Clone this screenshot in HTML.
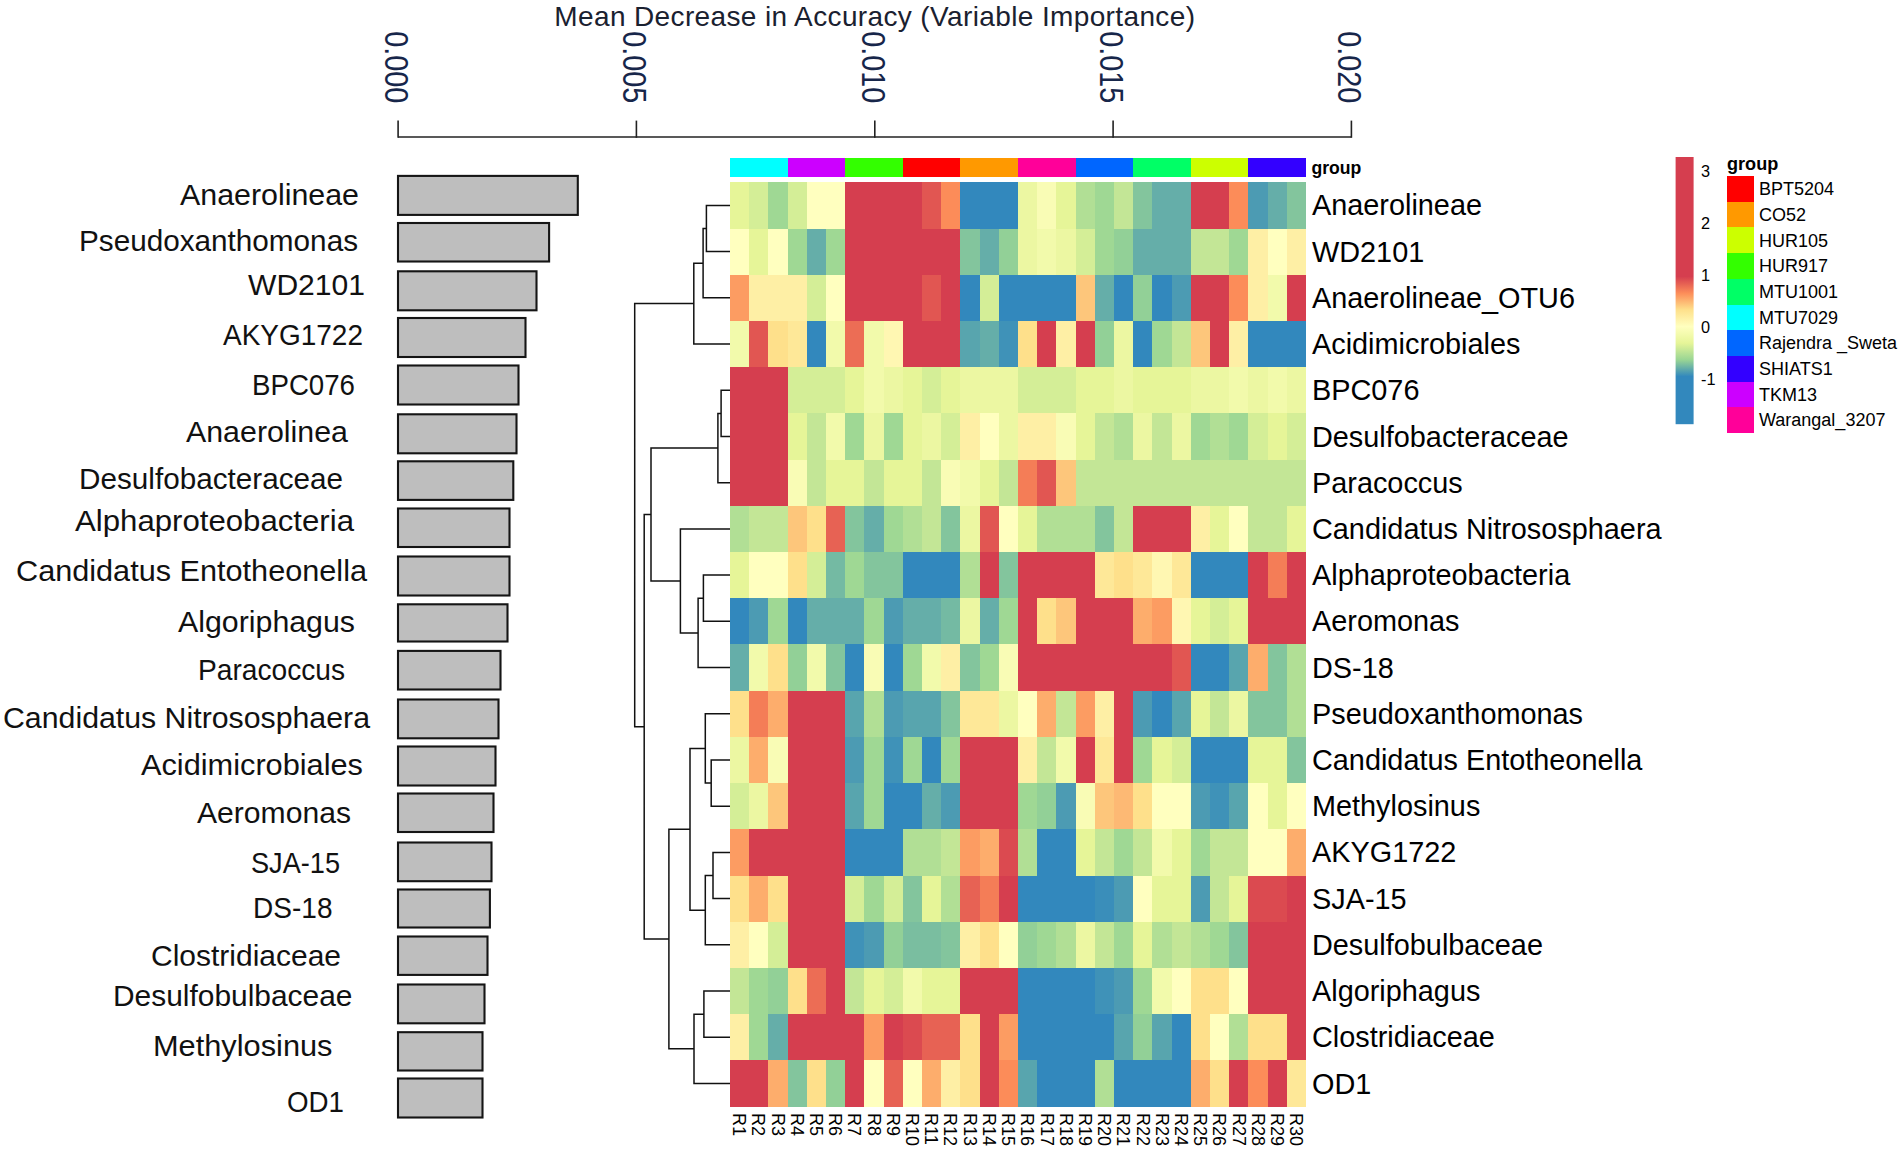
<!DOCTYPE html>
<html lang="en"><head><meta charset="utf-8"><title>Variable importance and heatmap</title>
<style>html,body{margin:0;padding:0;background:#fff}body{width:1902px;height:1152px;overflow:hidden}svg{display:block}text{font-family:"Liberation Sans",Arial,Helvetica,sans-serif}</style></head><body>
<svg width="1902" height="1152" viewBox="0 0 1902 1152">
<rect width="1902" height="1152" fill="#fff"/>
<g id="axis">
<text x="554.3" y="26.4" font-size="28" textLength="640.7" lengthAdjust="spacing" fill="#1a2130">Mean Decrease in Accuracy (Variable Importance)</text>
<path d="M398.1 137H1351.4" stroke="#222" stroke-width="1.6" fill="none"/>
<path d="M398.1 120.6V137.8" stroke="#222" stroke-width="1.6"/>
<text transform="translate(384.9,31.2) rotate(90) scale(1,1.14)" font-size="28.8" fill="#17264a">0.000</text>
<path d="M636.4 120.6V137.8" stroke="#222" stroke-width="1.6"/>
<text transform="translate(623.2,31.2) rotate(90) scale(1,1.14)" font-size="28.8" fill="#17264a">0.005</text>
<path d="M874.8 120.6V137.8" stroke="#222" stroke-width="1.6"/>
<text transform="translate(861.6,31.2) rotate(90) scale(1,1.14)" font-size="28.8" fill="#17264a">0.010</text>
<path d="M1113.1 120.6V137.8" stroke="#222" stroke-width="1.6"/>
<text transform="translate(1099.9,31.2) rotate(90) scale(1,1.14)" font-size="28.8" fill="#17264a">0.015</text>
<path d="M1351.4 120.6V137.8" stroke="#222" stroke-width="1.6"/>
<text transform="translate(1338.2,31.2) rotate(90) scale(1,1.14)" font-size="28.8" fill="#17264a">0.020</text>
</g>
<g id="bars">
<rect x="398" y="175.9" width="179.8" height="39.0" fill="#BEBEBE" stroke="#151515" stroke-width="2.1"/>
<rect x="398" y="223.0" width="151.1" height="38.5" fill="#BEBEBE" stroke="#151515" stroke-width="2.1"/>
<rect x="398" y="271.3" width="138.5" height="39.0" fill="#BEBEBE" stroke="#151515" stroke-width="2.1"/>
<rect x="398" y="318.0" width="127.5" height="39.0" fill="#BEBEBE" stroke="#151515" stroke-width="2.1"/>
<rect x="398" y="365.5" width="120.5" height="39.0" fill="#BEBEBE" stroke="#151515" stroke-width="2.1"/>
<rect x="398" y="414.3" width="118.5" height="39.0" fill="#BEBEBE" stroke="#151515" stroke-width="2.1"/>
<rect x="398" y="461.3" width="115.3" height="38.6" fill="#BEBEBE" stroke="#151515" stroke-width="2.1"/>
<rect x="398" y="508.5" width="111.5" height="38.5" fill="#BEBEBE" stroke="#151515" stroke-width="2.1"/>
<rect x="398" y="556.5" width="111.5" height="39.0" fill="#BEBEBE" stroke="#151515" stroke-width="2.1"/>
<rect x="398" y="604.3" width="109.5" height="37.2" fill="#BEBEBE" stroke="#151515" stroke-width="2.1"/>
<rect x="398" y="650.9" width="102.5" height="38.6" fill="#BEBEBE" stroke="#151515" stroke-width="2.1"/>
<rect x="398" y="699.5" width="100.5" height="38.8" fill="#BEBEBE" stroke="#151515" stroke-width="2.1"/>
<rect x="398" y="746.5" width="97.5" height="39.0" fill="#BEBEBE" stroke="#151515" stroke-width="2.1"/>
<rect x="398" y="793.5" width="95.5" height="38.5" fill="#BEBEBE" stroke="#151515" stroke-width="2.1"/>
<rect x="398" y="842.5" width="93.5" height="38.7" fill="#BEBEBE" stroke="#151515" stroke-width="2.1"/>
<rect x="398" y="889.5" width="91.9" height="38.0" fill="#BEBEBE" stroke="#151515" stroke-width="2.1"/>
<rect x="398" y="936.5" width="89.5" height="38.4" fill="#BEBEBE" stroke="#151515" stroke-width="2.1"/>
<rect x="398" y="984.5" width="86.5" height="38.8" fill="#BEBEBE" stroke="#151515" stroke-width="2.1"/>
<rect x="398" y="1032.2" width="84.5" height="38.3" fill="#BEBEBE" stroke="#151515" stroke-width="2.1"/>
<rect x="398" y="1078.5" width="84.5" height="39.0" fill="#BEBEBE" stroke="#151515" stroke-width="2.1"/>
</g><g id="barlabels" font-size="29.5" fill="#111">
<text x="180.0" y="205.0" textLength="179.0" lengthAdjust="spacingAndGlyphs">Anaerolineae</text>
<text x="79.0" y="251.0" textLength="279.0" lengthAdjust="spacingAndGlyphs">Pseudoxanthomonas</text>
<text x="248.0" y="295.0" textLength="117.0" lengthAdjust="spacingAndGlyphs">WD2101</text>
<text x="223.0" y="344.6" textLength="140.0" lengthAdjust="spacingAndGlyphs">AKYG1722</text>
<text x="252.0" y="395.0" textLength="103.0" lengthAdjust="spacingAndGlyphs">BPC076</text>
<text x="186.0" y="442.0" textLength="162.0" lengthAdjust="spacingAndGlyphs">Anaerolinea</text>
<text x="79.0" y="489.0" textLength="264.0" lengthAdjust="spacingAndGlyphs">Desulfobacteraceae</text>
<text x="75.0" y="531.0" textLength="279.0" lengthAdjust="spacingAndGlyphs">Alphaproteobacteria</text>
<text x="16.0" y="581.0" textLength="351.0" lengthAdjust="spacingAndGlyphs">Candidatus Entotheonella</text>
<text x="178.0" y="632.0" textLength="177.0" lengthAdjust="spacingAndGlyphs">Algoriphagus</text>
<text x="198.0" y="679.6" textLength="147.0" lengthAdjust="spacingAndGlyphs">Paracoccus</text>
<text x="3.0" y="727.5" textLength="367.0" lengthAdjust="spacingAndGlyphs">Candidatus Nitrososphaera</text>
<text x="141.0" y="774.6" textLength="222.0" lengthAdjust="spacingAndGlyphs">Acidimicrobiales</text>
<text x="197.0" y="823.0" textLength="154.0" lengthAdjust="spacingAndGlyphs">Aeromonas</text>
<text x="251.0" y="872.5" textLength="89.0" lengthAdjust="spacingAndGlyphs">SJA-15</text>
<text x="253.0" y="918.0" textLength="79.5" lengthAdjust="spacingAndGlyphs">DS-18</text>
<text x="151.0" y="966.3" textLength="190.0" lengthAdjust="spacingAndGlyphs">Clostridiaceae</text>
<rect x="140" y="965.8" width="215" height="12" fill="#fff"/>
<text x="113.0" y="1006.0" textLength="239.5" lengthAdjust="spacingAndGlyphs">Desulfobulbaceae</text>
<text x="153.0" y="1056.0" textLength="179.5" lengthAdjust="spacingAndGlyphs">Methylosinus</text>
<text x="287.0" y="1112.0" textLength="57.0" lengthAdjust="spacingAndGlyphs">OD1</text>
</g>
<g id="annot" shape-rendering="crispEdges">
<rect x="730.00" y="158.2" width="57.91" height="18.3" fill="#00FFFF"/>
<rect x="787.61" y="158.2" width="57.91" height="18.3" fill="#CC00FF"/>
<rect x="845.22" y="158.2" width="57.91" height="18.3" fill="#33FF00"/>
<rect x="902.83" y="158.2" width="57.91" height="18.3" fill="#FF0000"/>
<rect x="960.44" y="158.2" width="57.91" height="18.3" fill="#FF9900"/>
<rect x="1018.05" y="158.2" width="57.91" height="18.3" fill="#FF0099"/>
<rect x="1075.66" y="158.2" width="57.91" height="18.3" fill="#0066FF"/>
<rect x="1133.27" y="158.2" width="57.91" height="18.3" fill="#00FF66"/>
<rect x="1190.88" y="158.2" width="57.91" height="18.3" fill="#CCFF00"/>
<rect x="1248.49" y="158.2" width="57.91" height="18.3" fill="#3300FF"/>
</g>
<text x="1311.5" y="174" font-size="17.6" font-weight="bold" fill="#000">group</text>
<g id="heat" shape-rendering="crispEdges">
<rect x="730.00" y="182.30" width="19.50" height="46.51" fill="#E6F598"/>
<rect x="749.20" y="182.30" width="19.50" height="46.51" fill="#D4EE97"/>
<rect x="768.41" y="182.30" width="19.50" height="46.51" fill="#9FD894"/>
<rect x="787.61" y="182.30" width="19.50" height="46.51" fill="#D4EE97"/>
<rect x="806.81" y="182.30" width="38.71" height="46.51" fill="#FFFFBF"/>
<rect x="845.22" y="182.30" width="77.11" height="46.51" fill="#D53E4F"/>
<rect x="922.03" y="182.30" width="19.50" height="46.51" fill="#E15652"/>
<rect x="941.24" y="182.30" width="19.50" height="46.51" fill="#FC8C59"/>
<rect x="960.44" y="182.30" width="57.91" height="46.51" fill="#3288BD"/>
<rect x="1018.05" y="182.30" width="19.50" height="46.51" fill="#ECF7A2"/>
<rect x="1037.25" y="182.30" width="19.50" height="46.51" fill="#F9FCB5"/>
<rect x="1056.46" y="182.30" width="19.50" height="46.51" fill="#E6F598"/>
<rect x="1075.66" y="182.30" width="19.50" height="46.51" fill="#B1DF95"/>
<rect x="1094.86" y="182.30" width="19.50" height="46.51" fill="#9FD894"/>
<rect x="1114.07" y="182.30" width="19.50" height="46.51" fill="#C3E696"/>
<rect x="1133.27" y="182.30" width="19.50" height="46.51" fill="#83C59D"/>
<rect x="1152.47" y="182.30" width="38.71" height="46.51" fill="#65AEA9"/>
<rect x="1190.88" y="182.30" width="38.71" height="46.51" fill="#D53E4F"/>
<rect x="1229.29" y="182.30" width="19.50" height="46.51" fill="#FC8C59"/>
<rect x="1248.49" y="182.30" width="19.50" height="46.51" fill="#4C9BB3"/>
<rect x="1267.69" y="182.30" width="19.50" height="46.51" fill="#65AEA9"/>
<rect x="1286.90" y="182.30" width="19.50" height="46.51" fill="#83C59D"/>
<rect x="730.00" y="228.52" width="19.50" height="46.51" fill="#FFFFBF"/>
<rect x="749.20" y="228.52" width="19.50" height="46.51" fill="#E6F598"/>
<rect x="768.41" y="228.52" width="19.50" height="46.51" fill="#FFFFBF"/>
<rect x="787.61" y="228.52" width="19.50" height="46.51" fill="#9FD894"/>
<rect x="806.81" y="228.52" width="19.50" height="46.51" fill="#65AEA9"/>
<rect x="826.02" y="228.52" width="19.50" height="46.51" fill="#9FD894"/>
<rect x="845.22" y="228.52" width="115.52" height="46.51" fill="#D53E4F"/>
<rect x="960.44" y="228.52" width="19.50" height="46.51" fill="#83C59D"/>
<rect x="979.64" y="228.52" width="19.50" height="46.51" fill="#65AEA9"/>
<rect x="998.85" y="228.52" width="19.50" height="46.51" fill="#92D097"/>
<rect x="1018.05" y="228.52" width="19.50" height="46.51" fill="#ECF7A2"/>
<rect x="1037.25" y="228.52" width="19.50" height="46.51" fill="#F2FAAB"/>
<rect x="1056.46" y="228.52" width="19.50" height="46.51" fill="#ECF7A2"/>
<rect x="1075.66" y="228.52" width="19.50" height="46.51" fill="#D4EE97"/>
<rect x="1094.86" y="228.52" width="19.50" height="46.51" fill="#9FD894"/>
<rect x="1114.07" y="228.52" width="19.50" height="46.51" fill="#92D097"/>
<rect x="1133.27" y="228.52" width="57.91" height="46.51" fill="#65AEA9"/>
<rect x="1190.88" y="228.52" width="38.71" height="46.51" fill="#C3E696"/>
<rect x="1229.29" y="228.52" width="19.50" height="46.51" fill="#9FD894"/>
<rect x="1248.49" y="228.52" width="19.50" height="46.51" fill="#FEEFA5"/>
<rect x="1267.69" y="228.52" width="19.50" height="46.51" fill="#FFFFBF"/>
<rect x="1286.90" y="228.52" width="19.50" height="46.51" fill="#FEEFA5"/>
<rect x="730.00" y="274.73" width="19.50" height="46.51" fill="#FC9C62"/>
<rect x="749.20" y="274.73" width="57.91" height="46.51" fill="#FEEFA5"/>
<rect x="806.81" y="274.73" width="19.50" height="46.51" fill="#D4EE97"/>
<rect x="826.02" y="274.73" width="19.50" height="46.51" fill="#FFFFBF"/>
<rect x="845.22" y="274.73" width="77.11" height="46.51" fill="#D53E4F"/>
<rect x="922.03" y="274.73" width="19.50" height="46.51" fill="#E15652"/>
<rect x="941.24" y="274.73" width="19.50" height="46.51" fill="#D53E4F"/>
<rect x="960.44" y="274.73" width="19.50" height="46.51" fill="#3288BD"/>
<rect x="979.64" y="274.73" width="19.50" height="46.51" fill="#D4EE97"/>
<rect x="998.85" y="274.73" width="77.11" height="46.51" fill="#3288BD"/>
<rect x="1075.66" y="274.73" width="19.50" height="46.51" fill="#FDC67B"/>
<rect x="1094.86" y="274.73" width="19.50" height="46.51" fill="#65AEA9"/>
<rect x="1114.07" y="274.73" width="19.50" height="46.51" fill="#3288BD"/>
<rect x="1133.27" y="274.73" width="19.50" height="46.51" fill="#92D097"/>
<rect x="1152.47" y="274.73" width="19.50" height="46.51" fill="#3288BD"/>
<rect x="1171.68" y="274.73" width="19.50" height="46.51" fill="#4C9BB3"/>
<rect x="1190.88" y="274.73" width="38.71" height="46.51" fill="#D53E4F"/>
<rect x="1229.29" y="274.73" width="19.50" height="46.51" fill="#FC8C59"/>
<rect x="1248.49" y="274.73" width="19.50" height="46.51" fill="#FEEFA5"/>
<rect x="1267.69" y="274.73" width="19.50" height="46.51" fill="#F2FAAB"/>
<rect x="1286.90" y="274.73" width="19.50" height="46.51" fill="#D53E4F"/>
<rect x="730.00" y="320.94" width="19.50" height="46.51" fill="#F2FAAB"/>
<rect x="749.20" y="320.94" width="19.50" height="46.51" fill="#E15652"/>
<rect x="768.41" y="320.94" width="19.50" height="46.51" fill="#FEE08B"/>
<rect x="787.61" y="320.94" width="19.50" height="46.51" fill="#FEE898"/>
<rect x="806.81" y="320.94" width="19.50" height="46.51" fill="#3288BD"/>
<rect x="826.02" y="320.94" width="19.50" height="46.51" fill="#F2FAAB"/>
<rect x="845.22" y="320.94" width="19.50" height="46.51" fill="#EC6D55"/>
<rect x="864.42" y="320.94" width="19.50" height="46.51" fill="#F2FAAB"/>
<rect x="883.63" y="320.94" width="19.50" height="46.51" fill="#FFF7B2"/>
<rect x="902.83" y="320.94" width="57.91" height="46.51" fill="#D53E4F"/>
<rect x="960.44" y="320.94" width="19.50" height="46.51" fill="#58A5AE"/>
<rect x="979.64" y="320.94" width="19.50" height="46.51" fill="#65AEA9"/>
<rect x="998.85" y="320.94" width="19.50" height="46.51" fill="#3F92B8"/>
<rect x="1018.05" y="320.94" width="19.50" height="46.51" fill="#FEE08B"/>
<rect x="1037.25" y="320.94" width="19.50" height="46.51" fill="#D53E4F"/>
<rect x="1056.46" y="320.94" width="19.50" height="46.51" fill="#FEEFA5"/>
<rect x="1075.66" y="320.94" width="19.50" height="46.51" fill="#D53E4F"/>
<rect x="1094.86" y="320.94" width="19.50" height="46.51" fill="#92D097"/>
<rect x="1114.07" y="320.94" width="19.50" height="46.51" fill="#ECF7A2"/>
<rect x="1133.27" y="320.94" width="19.50" height="46.51" fill="#3288BD"/>
<rect x="1152.47" y="320.94" width="19.50" height="46.51" fill="#9FD894"/>
<rect x="1171.68" y="320.94" width="19.50" height="46.51" fill="#C3E696"/>
<rect x="1190.88" y="320.94" width="19.50" height="46.51" fill="#FDC67B"/>
<rect x="1210.08" y="320.94" width="19.50" height="46.51" fill="#D53E4F"/>
<rect x="1229.29" y="320.94" width="19.50" height="46.51" fill="#FEEFA5"/>
<rect x="1248.49" y="320.94" width="57.91" height="46.51" fill="#3288BD"/>
<rect x="730.00" y="367.16" width="57.91" height="46.51" fill="#D53E4F"/>
<rect x="787.61" y="367.16" width="57.91" height="46.51" fill="#D4EE97"/>
<rect x="845.22" y="367.16" width="19.50" height="46.51" fill="#E6F598"/>
<rect x="864.42" y="367.16" width="19.50" height="46.51" fill="#F2FAAB"/>
<rect x="883.63" y="367.16" width="19.50" height="46.51" fill="#ECF7A2"/>
<rect x="902.83" y="367.16" width="19.50" height="46.51" fill="#E6F598"/>
<rect x="922.03" y="367.16" width="19.50" height="46.51" fill="#D4EE97"/>
<rect x="941.24" y="367.16" width="19.50" height="46.51" fill="#E6F598"/>
<rect x="960.44" y="367.16" width="57.91" height="46.51" fill="#ECF7A2"/>
<rect x="1018.05" y="367.16" width="57.91" height="46.51" fill="#D4EE97"/>
<rect x="1075.66" y="367.16" width="38.71" height="46.51" fill="#E6F598"/>
<rect x="1114.07" y="367.16" width="19.50" height="46.51" fill="#ECF7A2"/>
<rect x="1133.27" y="367.16" width="57.91" height="46.51" fill="#E6F598"/>
<rect x="1190.88" y="367.16" width="38.71" height="46.51" fill="#ECF7A2"/>
<rect x="1229.29" y="367.16" width="19.50" height="46.51" fill="#F2FAAB"/>
<rect x="1248.49" y="367.16" width="19.50" height="46.51" fill="#ECF7A2"/>
<rect x="1267.69" y="367.16" width="19.50" height="46.51" fill="#F2FAAB"/>
<rect x="1286.90" y="367.16" width="19.50" height="46.51" fill="#ECF7A2"/>
<rect x="730.00" y="413.38" width="57.91" height="46.51" fill="#D53E4F"/>
<rect x="787.61" y="413.38" width="19.50" height="46.51" fill="#E6F598"/>
<rect x="806.81" y="413.38" width="19.50" height="46.51" fill="#C3E696"/>
<rect x="826.02" y="413.38" width="19.50" height="46.51" fill="#F2FAAB"/>
<rect x="845.22" y="413.38" width="19.50" height="46.51" fill="#9FD894"/>
<rect x="864.42" y="413.38" width="19.50" height="46.51" fill="#ECF7A2"/>
<rect x="883.63" y="413.38" width="19.50" height="46.51" fill="#9FD894"/>
<rect x="902.83" y="413.38" width="19.50" height="46.51" fill="#E6F598"/>
<rect x="922.03" y="413.38" width="19.50" height="46.51" fill="#ECF7A2"/>
<rect x="941.24" y="413.38" width="19.50" height="46.51" fill="#D4EE97"/>
<rect x="960.44" y="413.38" width="19.50" height="46.51" fill="#FEEFA5"/>
<rect x="979.64" y="413.38" width="19.50" height="46.51" fill="#FFFFBF"/>
<rect x="998.85" y="413.38" width="19.50" height="46.51" fill="#ECF7A2"/>
<rect x="1018.05" y="413.38" width="38.71" height="46.51" fill="#FEEFA5"/>
<rect x="1056.46" y="413.38" width="19.50" height="46.51" fill="#F9FCB5"/>
<rect x="1075.66" y="413.38" width="19.50" height="46.51" fill="#E6F598"/>
<rect x="1094.86" y="413.38" width="19.50" height="46.51" fill="#C3E696"/>
<rect x="1114.07" y="413.38" width="19.50" height="46.51" fill="#B1DF95"/>
<rect x="1133.27" y="413.38" width="19.50" height="46.51" fill="#ECF7A2"/>
<rect x="1152.47" y="413.38" width="19.50" height="46.51" fill="#C3E696"/>
<rect x="1171.68" y="413.38" width="19.50" height="46.51" fill="#ECF7A2"/>
<rect x="1190.88" y="413.38" width="19.50" height="46.51" fill="#9FD894"/>
<rect x="1210.08" y="413.38" width="19.50" height="46.51" fill="#B1DF95"/>
<rect x="1229.29" y="413.38" width="19.50" height="46.51" fill="#9FD894"/>
<rect x="1248.49" y="413.38" width="19.50" height="46.51" fill="#D4EE97"/>
<rect x="1267.69" y="413.38" width="19.50" height="46.51" fill="#E6F598"/>
<rect x="1286.90" y="413.38" width="19.50" height="46.51" fill="#D4EE97"/>
<rect x="730.00" y="459.59" width="57.91" height="46.51" fill="#D53E4F"/>
<rect x="787.61" y="459.59" width="19.50" height="46.51" fill="#F9FCB5"/>
<rect x="806.81" y="459.59" width="19.50" height="46.51" fill="#C3E696"/>
<rect x="826.02" y="459.59" width="38.71" height="46.51" fill="#E6F598"/>
<rect x="864.42" y="459.59" width="19.50" height="46.51" fill="#C3E696"/>
<rect x="883.63" y="459.59" width="38.71" height="46.51" fill="#E6F598"/>
<rect x="922.03" y="459.59" width="19.50" height="46.51" fill="#C3E696"/>
<rect x="941.24" y="459.59" width="19.50" height="46.51" fill="#F9FCB5"/>
<rect x="960.44" y="459.59" width="19.50" height="46.51" fill="#F2FAAB"/>
<rect x="979.64" y="459.59" width="19.50" height="46.51" fill="#E6F598"/>
<rect x="998.85" y="459.59" width="19.50" height="46.51" fill="#C3E696"/>
<rect x="1018.05" y="459.59" width="19.50" height="46.51" fill="#F47D57"/>
<rect x="1037.25" y="459.59" width="19.50" height="46.51" fill="#E15652"/>
<rect x="1056.46" y="459.59" width="19.50" height="46.51" fill="#FDC67B"/>
<rect x="1075.66" y="459.59" width="230.74" height="46.51" fill="#C3E696"/>
<rect x="730.00" y="505.81" width="19.50" height="46.51" fill="#B1DF95"/>
<rect x="749.20" y="505.81" width="38.71" height="46.51" fill="#C3E696"/>
<rect x="787.61" y="505.81" width="19.50" height="46.51" fill="#FDC67B"/>
<rect x="806.81" y="505.81" width="19.50" height="46.51" fill="#FEE08B"/>
<rect x="826.02" y="505.81" width="19.50" height="46.51" fill="#E76254"/>
<rect x="845.22" y="505.81" width="19.50" height="46.51" fill="#83C59D"/>
<rect x="864.42" y="505.81" width="19.50" height="46.51" fill="#65AEA9"/>
<rect x="883.63" y="505.81" width="19.50" height="46.51" fill="#9FD894"/>
<rect x="902.83" y="505.81" width="19.50" height="46.51" fill="#B1DF95"/>
<rect x="922.03" y="505.81" width="19.50" height="46.51" fill="#C3E696"/>
<rect x="941.24" y="505.81" width="19.50" height="46.51" fill="#83C59D"/>
<rect x="960.44" y="505.81" width="19.50" height="46.51" fill="#ECF7A2"/>
<rect x="979.64" y="505.81" width="19.50" height="46.51" fill="#E15652"/>
<rect x="998.85" y="505.81" width="19.50" height="46.51" fill="#FFFFBF"/>
<rect x="1018.05" y="505.81" width="19.50" height="46.51" fill="#E6F598"/>
<rect x="1037.25" y="505.81" width="57.91" height="46.51" fill="#B1DF95"/>
<rect x="1094.86" y="505.81" width="19.50" height="46.51" fill="#83C59D"/>
<rect x="1114.07" y="505.81" width="19.50" height="46.51" fill="#C3E696"/>
<rect x="1133.27" y="505.81" width="57.91" height="46.51" fill="#D53E4F"/>
<rect x="1190.88" y="505.81" width="19.50" height="46.51" fill="#FEEFA5"/>
<rect x="1210.08" y="505.81" width="19.50" height="46.51" fill="#E6F598"/>
<rect x="1229.29" y="505.81" width="19.50" height="46.51" fill="#FFFFBF"/>
<rect x="1248.49" y="505.81" width="38.71" height="46.51" fill="#C3E696"/>
<rect x="1286.90" y="505.81" width="19.50" height="46.51" fill="#E6F598"/>
<rect x="730.00" y="552.02" width="19.50" height="46.51" fill="#E6F598"/>
<rect x="749.20" y="552.02" width="38.71" height="46.51" fill="#FFFFBF"/>
<rect x="787.61" y="552.02" width="19.50" height="46.51" fill="#FEE08B"/>
<rect x="806.81" y="552.02" width="19.50" height="46.51" fill="#D4EE97"/>
<rect x="826.02" y="552.02" width="19.50" height="46.51" fill="#74BAA3"/>
<rect x="845.22" y="552.02" width="19.50" height="46.51" fill="#9FD894"/>
<rect x="864.42" y="552.02" width="38.71" height="46.51" fill="#83C59D"/>
<rect x="902.83" y="552.02" width="57.91" height="46.51" fill="#3288BD"/>
<rect x="960.44" y="552.02" width="19.50" height="46.51" fill="#B1DF95"/>
<rect x="979.64" y="552.02" width="19.50" height="46.51" fill="#D53E4F"/>
<rect x="998.85" y="552.02" width="19.50" height="46.51" fill="#83C59D"/>
<rect x="1018.05" y="552.02" width="77.11" height="46.51" fill="#D53E4F"/>
<rect x="1094.86" y="552.02" width="19.50" height="46.51" fill="#FEE898"/>
<rect x="1114.07" y="552.02" width="19.50" height="46.51" fill="#FEE08B"/>
<rect x="1133.27" y="552.02" width="19.50" height="46.51" fill="#FEE898"/>
<rect x="1152.47" y="552.02" width="19.50" height="46.51" fill="#FFF7B2"/>
<rect x="1171.68" y="552.02" width="19.50" height="46.51" fill="#FEE898"/>
<rect x="1190.88" y="552.02" width="57.91" height="46.51" fill="#3288BD"/>
<rect x="1248.49" y="552.02" width="19.50" height="46.51" fill="#D53E4F"/>
<rect x="1267.69" y="552.02" width="19.50" height="46.51" fill="#F47D57"/>
<rect x="1286.90" y="552.02" width="19.50" height="46.51" fill="#D53E4F"/>
<rect x="730.00" y="598.23" width="19.50" height="46.51" fill="#3288BD"/>
<rect x="749.20" y="598.23" width="19.50" height="46.51" fill="#4C9BB3"/>
<rect x="768.41" y="598.23" width="19.50" height="46.51" fill="#9FD894"/>
<rect x="787.61" y="598.23" width="19.50" height="46.51" fill="#3288BD"/>
<rect x="806.81" y="598.23" width="57.91" height="46.51" fill="#65AEA9"/>
<rect x="864.42" y="598.23" width="19.50" height="46.51" fill="#9FD894"/>
<rect x="883.63" y="598.23" width="19.50" height="46.51" fill="#4C9BB3"/>
<rect x="902.83" y="598.23" width="38.71" height="46.51" fill="#65AEA9"/>
<rect x="941.24" y="598.23" width="19.50" height="46.51" fill="#74BAA3"/>
<rect x="960.44" y="598.23" width="19.50" height="46.51" fill="#ECF7A2"/>
<rect x="979.64" y="598.23" width="19.50" height="46.51" fill="#65AEA9"/>
<rect x="998.85" y="598.23" width="19.50" height="46.51" fill="#9FD894"/>
<rect x="1018.05" y="598.23" width="19.50" height="46.51" fill="#D53E4F"/>
<rect x="1037.25" y="598.23" width="19.50" height="46.51" fill="#FEE08B"/>
<rect x="1056.46" y="598.23" width="19.50" height="46.51" fill="#FDC67B"/>
<rect x="1075.66" y="598.23" width="57.91" height="46.51" fill="#D53E4F"/>
<rect x="1133.27" y="598.23" width="19.50" height="46.51" fill="#FDAD6C"/>
<rect x="1152.47" y="598.23" width="19.50" height="46.51" fill="#FC9C62"/>
<rect x="1171.68" y="598.23" width="19.50" height="46.51" fill="#FFF7B2"/>
<rect x="1190.88" y="598.23" width="19.50" height="46.51" fill="#E6F598"/>
<rect x="1210.08" y="598.23" width="19.50" height="46.51" fill="#D4EE97"/>
<rect x="1229.29" y="598.23" width="19.50" height="46.51" fill="#E6F598"/>
<rect x="1248.49" y="598.23" width="57.91" height="46.51" fill="#D53E4F"/>
<rect x="730.00" y="644.45" width="19.50" height="46.51" fill="#65AEA9"/>
<rect x="749.20" y="644.45" width="19.50" height="46.51" fill="#F2FAAB"/>
<rect x="768.41" y="644.45" width="19.50" height="46.51" fill="#FEE08B"/>
<rect x="787.61" y="644.45" width="19.50" height="46.51" fill="#92D097"/>
<rect x="806.81" y="644.45" width="19.50" height="46.51" fill="#F2FAAB"/>
<rect x="826.02" y="644.45" width="19.50" height="46.51" fill="#83C59D"/>
<rect x="845.22" y="644.45" width="19.50" height="46.51" fill="#3288BD"/>
<rect x="864.42" y="644.45" width="19.50" height="46.51" fill="#F9FCB5"/>
<rect x="883.63" y="644.45" width="19.50" height="46.51" fill="#3288BD"/>
<rect x="902.83" y="644.45" width="19.50" height="46.51" fill="#9FD894"/>
<rect x="922.03" y="644.45" width="19.50" height="46.51" fill="#F2FAAB"/>
<rect x="941.24" y="644.45" width="19.50" height="46.51" fill="#FEEFA5"/>
<rect x="960.44" y="644.45" width="19.50" height="46.51" fill="#83C59D"/>
<rect x="979.64" y="644.45" width="19.50" height="46.51" fill="#9FD894"/>
<rect x="998.85" y="644.45" width="19.50" height="46.51" fill="#F9FCB5"/>
<rect x="1018.05" y="644.45" width="153.93" height="46.51" fill="#D53E4F"/>
<rect x="1171.68" y="644.45" width="19.50" height="46.51" fill="#E15652"/>
<rect x="1190.88" y="644.45" width="38.71" height="46.51" fill="#3288BD"/>
<rect x="1229.29" y="644.45" width="19.50" height="46.51" fill="#58A5AE"/>
<rect x="1248.49" y="644.45" width="19.50" height="46.51" fill="#FDAD6C"/>
<rect x="1267.69" y="644.45" width="19.50" height="46.51" fill="#83C59D"/>
<rect x="1286.90" y="644.45" width="19.50" height="46.51" fill="#B1DF95"/>
<rect x="730.00" y="690.66" width="19.50" height="46.51" fill="#FEE08B"/>
<rect x="749.20" y="690.66" width="19.50" height="46.51" fill="#F47D57"/>
<rect x="768.41" y="690.66" width="19.50" height="46.51" fill="#FDAD6C"/>
<rect x="787.61" y="690.66" width="57.91" height="46.51" fill="#D53E4F"/>
<rect x="845.22" y="690.66" width="19.50" height="46.51" fill="#58A5AE"/>
<rect x="864.42" y="690.66" width="19.50" height="46.51" fill="#B1DF95"/>
<rect x="883.63" y="690.66" width="19.50" height="46.51" fill="#4C9BB3"/>
<rect x="902.83" y="690.66" width="38.71" height="46.51" fill="#58A5AE"/>
<rect x="941.24" y="690.66" width="19.50" height="46.51" fill="#83C59D"/>
<rect x="960.44" y="690.66" width="38.71" height="46.51" fill="#FEE898"/>
<rect x="998.85" y="690.66" width="19.50" height="46.51" fill="#ECF7A2"/>
<rect x="1018.05" y="690.66" width="19.50" height="46.51" fill="#FFFFBF"/>
<rect x="1037.25" y="690.66" width="19.50" height="46.51" fill="#FDAD6C"/>
<rect x="1056.46" y="690.66" width="19.50" height="46.51" fill="#C3E696"/>
<rect x="1075.66" y="690.66" width="19.50" height="46.51" fill="#FC9C62"/>
<rect x="1094.86" y="690.66" width="19.50" height="46.51" fill="#FEEFA5"/>
<rect x="1114.07" y="690.66" width="19.50" height="46.51" fill="#D53E4F"/>
<rect x="1133.27" y="690.66" width="19.50" height="46.51" fill="#4C9BB3"/>
<rect x="1152.47" y="690.66" width="19.50" height="46.51" fill="#3288BD"/>
<rect x="1171.68" y="690.66" width="19.50" height="46.51" fill="#58A5AE"/>
<rect x="1190.88" y="690.66" width="19.50" height="46.51" fill="#E6F598"/>
<rect x="1210.08" y="690.66" width="19.50" height="46.51" fill="#C3E696"/>
<rect x="1229.29" y="690.66" width="19.50" height="46.51" fill="#ECF7A2"/>
<rect x="1248.49" y="690.66" width="38.71" height="46.51" fill="#83C59D"/>
<rect x="1286.90" y="690.66" width="19.50" height="46.51" fill="#B1DF95"/>
<rect x="730.00" y="736.88" width="19.50" height="46.51" fill="#ECF7A2"/>
<rect x="749.20" y="736.88" width="19.50" height="46.51" fill="#FDAD6C"/>
<rect x="768.41" y="736.88" width="19.50" height="46.51" fill="#F9FCB5"/>
<rect x="787.61" y="736.88" width="57.91" height="46.51" fill="#D53E4F"/>
<rect x="845.22" y="736.88" width="19.50" height="46.51" fill="#4C9BB3"/>
<rect x="864.42" y="736.88" width="19.50" height="46.51" fill="#9FD894"/>
<rect x="883.63" y="736.88" width="19.50" height="46.51" fill="#3F92B8"/>
<rect x="902.83" y="736.88" width="19.50" height="46.51" fill="#9FD894"/>
<rect x="922.03" y="736.88" width="19.50" height="46.51" fill="#3288BD"/>
<rect x="941.24" y="736.88" width="19.50" height="46.51" fill="#9FD894"/>
<rect x="960.44" y="736.88" width="57.91" height="46.51" fill="#D53E4F"/>
<rect x="1018.05" y="736.88" width="19.50" height="46.51" fill="#FEEFA5"/>
<rect x="1037.25" y="736.88" width="19.50" height="46.51" fill="#C3E696"/>
<rect x="1056.46" y="736.88" width="19.50" height="46.51" fill="#F2FAAB"/>
<rect x="1075.66" y="736.88" width="19.50" height="46.51" fill="#D53E4F"/>
<rect x="1094.86" y="736.88" width="19.50" height="46.51" fill="#FEE898"/>
<rect x="1114.07" y="736.88" width="19.50" height="46.51" fill="#D53E4F"/>
<rect x="1133.27" y="736.88" width="19.50" height="46.51" fill="#9FD894"/>
<rect x="1152.47" y="736.88" width="19.50" height="46.51" fill="#E6F598"/>
<rect x="1171.68" y="736.88" width="19.50" height="46.51" fill="#D4EE97"/>
<rect x="1190.88" y="736.88" width="57.91" height="46.51" fill="#3288BD"/>
<rect x="1248.49" y="736.88" width="38.71" height="46.51" fill="#E6F598"/>
<rect x="1286.90" y="736.88" width="19.50" height="46.51" fill="#83C59D"/>
<rect x="730.00" y="783.10" width="19.50" height="46.51" fill="#D4EE97"/>
<rect x="749.20" y="783.10" width="19.50" height="46.51" fill="#ECF7A2"/>
<rect x="768.41" y="783.10" width="19.50" height="46.51" fill="#FDC67B"/>
<rect x="787.61" y="783.10" width="57.91" height="46.51" fill="#D53E4F"/>
<rect x="845.22" y="783.10" width="19.50" height="46.51" fill="#58A5AE"/>
<rect x="864.42" y="783.10" width="19.50" height="46.51" fill="#9FD894"/>
<rect x="883.63" y="783.10" width="38.71" height="46.51" fill="#3288BD"/>
<rect x="922.03" y="783.10" width="19.50" height="46.51" fill="#65AEA9"/>
<rect x="941.24" y="783.10" width="19.50" height="46.51" fill="#4C9BB3"/>
<rect x="960.44" y="783.10" width="57.91" height="46.51" fill="#D53E4F"/>
<rect x="1018.05" y="783.10" width="19.50" height="46.51" fill="#9FD894"/>
<rect x="1037.25" y="783.10" width="19.50" height="46.51" fill="#92D097"/>
<rect x="1056.46" y="783.10" width="19.50" height="46.51" fill="#4C9BB3"/>
<rect x="1075.66" y="783.10" width="19.50" height="46.51" fill="#F9FCB5"/>
<rect x="1094.86" y="783.10" width="19.50" height="46.51" fill="#FDC67B"/>
<rect x="1114.07" y="783.10" width="19.50" height="46.51" fill="#FDB974"/>
<rect x="1133.27" y="783.10" width="19.50" height="46.51" fill="#FEE08B"/>
<rect x="1152.47" y="783.10" width="38.71" height="46.51" fill="#FFFFBF"/>
<rect x="1190.88" y="783.10" width="19.50" height="46.51" fill="#4C9BB3"/>
<rect x="1210.08" y="783.10" width="19.50" height="46.51" fill="#3F92B8"/>
<rect x="1229.29" y="783.10" width="19.50" height="46.51" fill="#58A5AE"/>
<rect x="1248.49" y="783.10" width="19.50" height="46.51" fill="#FFFFBF"/>
<rect x="1267.69" y="783.10" width="19.50" height="46.51" fill="#E6F598"/>
<rect x="1286.90" y="783.10" width="19.50" height="46.51" fill="#FFFFBF"/>
<rect x="730.00" y="829.31" width="19.50" height="46.51" fill="#FC9C62"/>
<rect x="749.20" y="829.31" width="96.32" height="46.51" fill="#D53E4F"/>
<rect x="845.22" y="829.31" width="57.91" height="46.51" fill="#3288BD"/>
<rect x="902.83" y="829.31" width="38.71" height="46.51" fill="#B1DF95"/>
<rect x="941.24" y="829.31" width="19.50" height="46.51" fill="#C3E696"/>
<rect x="960.44" y="829.31" width="19.50" height="46.51" fill="#FC9C62"/>
<rect x="979.64" y="829.31" width="19.50" height="46.51" fill="#FDAD6C"/>
<rect x="998.85" y="829.31" width="19.50" height="46.51" fill="#DB4A50"/>
<rect x="1018.05" y="829.31" width="19.50" height="46.51" fill="#B1DF95"/>
<rect x="1037.25" y="829.31" width="38.71" height="46.51" fill="#3288BD"/>
<rect x="1075.66" y="829.31" width="19.50" height="46.51" fill="#E6F598"/>
<rect x="1094.86" y="829.31" width="19.50" height="46.51" fill="#C3E696"/>
<rect x="1114.07" y="829.31" width="19.50" height="46.51" fill="#9FD894"/>
<rect x="1133.27" y="829.31" width="19.50" height="46.51" fill="#C3E696"/>
<rect x="1152.47" y="829.31" width="19.50" height="46.51" fill="#F2FAAB"/>
<rect x="1171.68" y="829.31" width="19.50" height="46.51" fill="#E6F598"/>
<rect x="1190.88" y="829.31" width="19.50" height="46.51" fill="#9FD894"/>
<rect x="1210.08" y="829.31" width="38.71" height="46.51" fill="#C3E696"/>
<rect x="1248.49" y="829.31" width="38.71" height="46.51" fill="#FFFFBF"/>
<rect x="1286.90" y="829.31" width="19.50" height="46.51" fill="#FDAD6C"/>
<rect x="730.00" y="875.52" width="19.50" height="46.51" fill="#FEE08B"/>
<rect x="749.20" y="875.52" width="19.50" height="46.51" fill="#FDAD6C"/>
<rect x="768.41" y="875.52" width="19.50" height="46.51" fill="#FEE08B"/>
<rect x="787.61" y="875.52" width="57.91" height="46.51" fill="#D53E4F"/>
<rect x="845.22" y="875.52" width="19.50" height="46.51" fill="#D4EE97"/>
<rect x="864.42" y="875.52" width="19.50" height="46.51" fill="#9FD894"/>
<rect x="883.63" y="875.52" width="19.50" height="46.51" fill="#D4EE97"/>
<rect x="902.83" y="875.52" width="19.50" height="46.51" fill="#83C59D"/>
<rect x="922.03" y="875.52" width="19.50" height="46.51" fill="#E6F598"/>
<rect x="941.24" y="875.52" width="19.50" height="46.51" fill="#B1DF95"/>
<rect x="960.44" y="875.52" width="19.50" height="46.51" fill="#E76254"/>
<rect x="979.64" y="875.52" width="19.50" height="46.51" fill="#F47D57"/>
<rect x="998.85" y="875.52" width="19.50" height="46.51" fill="#D53E4F"/>
<rect x="1018.05" y="875.52" width="77.11" height="46.51" fill="#3288BD"/>
<rect x="1094.86" y="875.52" width="19.50" height="46.51" fill="#3A8EBA"/>
<rect x="1114.07" y="875.52" width="19.50" height="46.51" fill="#4C9BB3"/>
<rect x="1133.27" y="875.52" width="19.50" height="46.51" fill="#FFFFBF"/>
<rect x="1152.47" y="875.52" width="38.71" height="46.51" fill="#E6F598"/>
<rect x="1190.88" y="875.52" width="19.50" height="46.51" fill="#4C9BB3"/>
<rect x="1210.08" y="875.52" width="19.50" height="46.51" fill="#C3E696"/>
<rect x="1229.29" y="875.52" width="19.50" height="46.51" fill="#E6F598"/>
<rect x="1248.49" y="875.52" width="38.71" height="46.51" fill="#DB4A50"/>
<rect x="1286.90" y="875.52" width="19.50" height="46.51" fill="#D53E4F"/>
<rect x="730.00" y="921.74" width="19.50" height="46.51" fill="#FEEFA5"/>
<rect x="749.20" y="921.74" width="19.50" height="46.51" fill="#FFFFBF"/>
<rect x="768.41" y="921.74" width="19.50" height="46.51" fill="#D4EE97"/>
<rect x="787.61" y="921.74" width="57.91" height="46.51" fill="#D53E4F"/>
<rect x="845.22" y="921.74" width="19.50" height="46.51" fill="#3F92B8"/>
<rect x="864.42" y="921.74" width="19.50" height="46.51" fill="#4C9BB3"/>
<rect x="883.63" y="921.74" width="19.50" height="46.51" fill="#92D097"/>
<rect x="902.83" y="921.74" width="38.71" height="46.51" fill="#7ABEA0"/>
<rect x="941.24" y="921.74" width="19.50" height="46.51" fill="#83C59D"/>
<rect x="960.44" y="921.74" width="19.50" height="46.51" fill="#FEEFA5"/>
<rect x="979.64" y="921.74" width="19.50" height="46.51" fill="#FEE08B"/>
<rect x="998.85" y="921.74" width="19.50" height="46.51" fill="#FFFFBF"/>
<rect x="1018.05" y="921.74" width="19.50" height="46.51" fill="#92D097"/>
<rect x="1037.25" y="921.74" width="19.50" height="46.51" fill="#9FD894"/>
<rect x="1056.46" y="921.74" width="19.50" height="46.51" fill="#B1DF95"/>
<rect x="1075.66" y="921.74" width="19.50" height="46.51" fill="#ECF7A2"/>
<rect x="1094.86" y="921.74" width="19.50" height="46.51" fill="#C3E696"/>
<rect x="1114.07" y="921.74" width="19.50" height="46.51" fill="#9FD894"/>
<rect x="1133.27" y="921.74" width="19.50" height="46.51" fill="#E6F598"/>
<rect x="1152.47" y="921.74" width="19.50" height="46.51" fill="#B1DF95"/>
<rect x="1171.68" y="921.74" width="19.50" height="46.51" fill="#C3E696"/>
<rect x="1190.88" y="921.74" width="19.50" height="46.51" fill="#B1DF95"/>
<rect x="1210.08" y="921.74" width="19.50" height="46.51" fill="#9FD894"/>
<rect x="1229.29" y="921.74" width="19.50" height="46.51" fill="#83C59D"/>
<rect x="1248.49" y="921.74" width="57.91" height="46.51" fill="#D53E4F"/>
<rect x="730.00" y="967.95" width="19.50" height="46.51" fill="#C3E696"/>
<rect x="749.20" y="967.95" width="19.50" height="46.51" fill="#9FD894"/>
<rect x="768.41" y="967.95" width="19.50" height="46.51" fill="#92D097"/>
<rect x="787.61" y="967.95" width="19.50" height="46.51" fill="#FEE08B"/>
<rect x="806.81" y="967.95" width="19.50" height="46.51" fill="#EC6D55"/>
<rect x="826.02" y="967.95" width="19.50" height="46.51" fill="#D53E4F"/>
<rect x="845.22" y="967.95" width="19.50" height="46.51" fill="#C3E696"/>
<rect x="864.42" y="967.95" width="19.50" height="46.51" fill="#E6F598"/>
<rect x="883.63" y="967.95" width="19.50" height="46.51" fill="#D4EE97"/>
<rect x="902.83" y="967.95" width="19.50" height="46.51" fill="#F2FAAB"/>
<rect x="922.03" y="967.95" width="38.71" height="46.51" fill="#E6F598"/>
<rect x="960.44" y="967.95" width="57.91" height="46.51" fill="#D53E4F"/>
<rect x="1018.05" y="967.95" width="77.11" height="46.51" fill="#3288BD"/>
<rect x="1094.86" y="967.95" width="19.50" height="46.51" fill="#3F92B8"/>
<rect x="1114.07" y="967.95" width="19.50" height="46.51" fill="#4C9BB3"/>
<rect x="1133.27" y="967.95" width="19.50" height="46.51" fill="#9FD894"/>
<rect x="1152.47" y="967.95" width="19.50" height="46.51" fill="#F2FAAB"/>
<rect x="1171.68" y="967.95" width="19.50" height="46.51" fill="#FFFFBF"/>
<rect x="1190.88" y="967.95" width="38.71" height="46.51" fill="#FEE08B"/>
<rect x="1229.29" y="967.95" width="19.50" height="46.51" fill="#FFFFBF"/>
<rect x="1248.49" y="967.95" width="57.91" height="46.51" fill="#D53E4F"/>
<rect x="730.00" y="1014.17" width="19.50" height="46.51" fill="#FEEFA5"/>
<rect x="749.20" y="1014.17" width="19.50" height="46.51" fill="#9FD894"/>
<rect x="768.41" y="1014.17" width="19.50" height="46.51" fill="#65AEA9"/>
<rect x="787.61" y="1014.17" width="77.11" height="46.51" fill="#D53E4F"/>
<rect x="864.42" y="1014.17" width="19.50" height="46.51" fill="#FC9C62"/>
<rect x="883.63" y="1014.17" width="19.50" height="46.51" fill="#D53E4F"/>
<rect x="902.83" y="1014.17" width="19.50" height="46.51" fill="#DB4A50"/>
<rect x="922.03" y="1014.17" width="38.71" height="46.51" fill="#E76254"/>
<rect x="960.44" y="1014.17" width="19.50" height="46.51" fill="#FEE08B"/>
<rect x="979.64" y="1014.17" width="19.50" height="46.51" fill="#D53E4F"/>
<rect x="998.85" y="1014.17" width="19.50" height="46.51" fill="#FC9C62"/>
<rect x="1018.05" y="1014.17" width="96.32" height="46.51" fill="#3288BD"/>
<rect x="1114.07" y="1014.17" width="19.50" height="46.51" fill="#58A5AE"/>
<rect x="1133.27" y="1014.17" width="19.50" height="46.51" fill="#92D097"/>
<rect x="1152.47" y="1014.17" width="19.50" height="46.51" fill="#58A5AE"/>
<rect x="1171.68" y="1014.17" width="19.50" height="46.51" fill="#3288BD"/>
<rect x="1190.88" y="1014.17" width="19.50" height="46.51" fill="#FEE08B"/>
<rect x="1210.08" y="1014.17" width="19.50" height="46.51" fill="#FFFFBF"/>
<rect x="1229.29" y="1014.17" width="19.50" height="46.51" fill="#B1DF95"/>
<rect x="1248.49" y="1014.17" width="38.71" height="46.51" fill="#FEE08B"/>
<rect x="1286.90" y="1014.17" width="19.50" height="46.51" fill="#D53E4F"/>
<rect x="730.00" y="1060.38" width="38.71" height="46.51" fill="#D53E4F"/>
<rect x="768.41" y="1060.38" width="19.50" height="46.51" fill="#FDAD6C"/>
<rect x="787.61" y="1060.38" width="19.50" height="46.51" fill="#83C59D"/>
<rect x="806.81" y="1060.38" width="19.50" height="46.51" fill="#FEE08B"/>
<rect x="826.02" y="1060.38" width="19.50" height="46.51" fill="#92D097"/>
<rect x="845.22" y="1060.38" width="19.50" height="46.51" fill="#D53E4F"/>
<rect x="864.42" y="1060.38" width="19.50" height="46.51" fill="#FFFFBF"/>
<rect x="883.63" y="1060.38" width="19.50" height="46.51" fill="#E76254"/>
<rect x="902.83" y="1060.38" width="19.50" height="46.51" fill="#FFFFBF"/>
<rect x="922.03" y="1060.38" width="19.50" height="46.51" fill="#FDAD6C"/>
<rect x="941.24" y="1060.38" width="19.50" height="46.51" fill="#FEEFA5"/>
<rect x="960.44" y="1060.38" width="19.50" height="46.51" fill="#FEE08B"/>
<rect x="979.64" y="1060.38" width="19.50" height="46.51" fill="#D53E4F"/>
<rect x="998.85" y="1060.38" width="19.50" height="46.51" fill="#FC8C59"/>
<rect x="1018.05" y="1060.38" width="19.50" height="46.51" fill="#58A5AE"/>
<rect x="1037.25" y="1060.38" width="57.91" height="46.51" fill="#3288BD"/>
<rect x="1094.86" y="1060.38" width="19.50" height="46.51" fill="#B1DF95"/>
<rect x="1114.07" y="1060.38" width="77.11" height="46.51" fill="#3288BD"/>
<rect x="1190.88" y="1060.38" width="19.50" height="46.51" fill="#FDAD6C"/>
<rect x="1210.08" y="1060.38" width="19.50" height="46.51" fill="#FEE08B"/>
<rect x="1229.29" y="1060.38" width="19.50" height="46.51" fill="#D53E4F"/>
<rect x="1248.49" y="1060.38" width="19.50" height="46.51" fill="#FC8C59"/>
<rect x="1267.69" y="1060.38" width="19.50" height="46.51" fill="#D53E4F"/>
<rect x="1286.90" y="1060.38" width="19.50" height="46.51" fill="#FEE898"/>
</g>
<g id="rowlabels" font-size="28.85" fill="#000">
<text x="1312" y="215.4">Anaerolineae</text>
<text x="1312" y="261.6">WD2101</text>
<text x="1312" y="307.8">Anaerolineae_OTU6</text>
<text x="1312" y="354.1">Acidimicrobiales</text>
<text x="1312" y="400.3">BPC076</text>
<text x="1312" y="446.5">Desulfobacteraceae</text>
<text x="1312" y="492.7">Paracoccus</text>
<text x="1312" y="538.9">Candidatus Nitrososphaera</text>
<text x="1312" y="585.1">Alphaproteobacteria</text>
<text x="1312" y="631.3">Aeromonas</text>
<text x="1312" y="677.6">DS-18</text>
<text x="1312" y="723.8">Pseudoxanthomonas</text>
<text x="1312" y="770.0">Candidatus Entotheonella</text>
<text x="1312" y="816.2">Methylosinus</text>
<text x="1312" y="862.4">AKYG1722</text>
<text x="1312" y="908.6">SJA-15</text>
<text x="1312" y="954.8">Desulfobulbaceae</text>
<text x="1312" y="1001.1">Algoriphagus</text>
<text x="1312" y="1047.3">Clostridiaceae</text>
<text x="1312" y="1093.5">OD1</text>
</g>
<g id="collabels" font-size="18" fill="#000">
<text transform="translate(733.2,1113) rotate(90)">R1</text>
<text transform="translate(752.4,1113) rotate(90)">R2</text>
<text transform="translate(771.6,1113) rotate(90)">R3</text>
<text transform="translate(790.8,1113) rotate(90)">R4</text>
<text transform="translate(810.0,1113) rotate(90)">R5</text>
<text transform="translate(829.2,1113) rotate(90)">R6</text>
<text transform="translate(848.4,1113) rotate(90)">R7</text>
<text transform="translate(867.6,1113) rotate(90)">R8</text>
<text transform="translate(886.8,1113) rotate(90)">R9</text>
<text transform="translate(906.0,1113) rotate(90)">R10</text>
<text transform="translate(925.2,1113) rotate(90)">R11</text>
<text transform="translate(944.4,1113) rotate(90)">R12</text>
<text transform="translate(963.6,1113) rotate(90)">R13</text>
<text transform="translate(982.8,1113) rotate(90)">R14</text>
<text transform="translate(1002.0,1113) rotate(90)">R15</text>
<text transform="translate(1021.3,1113) rotate(90)">R16</text>
<text transform="translate(1040.5,1113) rotate(90)">R17</text>
<text transform="translate(1059.7,1113) rotate(90)">R18</text>
<text transform="translate(1078.9,1113) rotate(90)">R19</text>
<text transform="translate(1098.1,1113) rotate(90)">R20</text>
<text transform="translate(1117.3,1113) rotate(90)">R21</text>
<text transform="translate(1136.5,1113) rotate(90)">R22</text>
<text transform="translate(1155.7,1113) rotate(90)">R23</text>
<text transform="translate(1174.9,1113) rotate(90)">R24</text>
<text transform="translate(1194.1,1113) rotate(90)">R25</text>
<text transform="translate(1213.3,1113) rotate(90)">R26</text>
<text transform="translate(1232.5,1113) rotate(90)">R27</text>
<text transform="translate(1251.7,1113) rotate(90)">R28</text>
<text transform="translate(1270.9,1113) rotate(90)">R29</text>
<text transform="translate(1290.1,1113) rotate(90)">R30</text>
</g>
<path id="dendro" d="M730.0 205.4H706.4V251.6H730.0M706.4 228.5H703.1V297.8H730.0M703.1 263.2H693.8V344.1H730.0M730.0 390.3H721.1V436.5H730.0M721.1 413.4H717.9V482.7H730.0M730.0 575.1H703.4V621.3H730.0M703.4 598.2H698.1V667.6H730.0M730.0 528.9H680.4V632.9H698.1M717.9 448.0H651.0V580.9H680.4M730.0 760.0H711.2V806.2H730.0M730.0 713.8H705.3V783.1H711.2M730.0 852.4H713.0V898.6H730.0M713.0 875.5H705.3V944.8H730.0M705.3 748.4H690.0V910.2H705.3M730.0 991.1H703.9V1037.3H730.0M703.9 1014.2H694.0V1083.5H730.0M690.0 829.3H668.9V1048.8H694.0M651.0 514.5H644.2V939.1H668.9M693.8 303.6H634.7V726.8H644.2" fill="none" stroke="#111" stroke-width="1.5" stroke-linejoin="miter"/>
<defs><linearGradient id="cb" x1="0" y1="0" x2="0" y2="1">
<stop offset="0" stop-color="#D53E4F"/>
<stop offset="0.4472" stop-color="#D53E4F"/>
<stop offset="0.5096" stop-color="#FC8D59"/>
<stop offset="0.5720" stop-color="#FEE08B"/>
<stop offset="0.6344" stop-color="#FFFFBF"/>
<stop offset="0.6967" stop-color="#E6F598"/>
<stop offset="0.7591" stop-color="#99D594"/>
<stop offset="0.8215" stop-color="#3288BD"/>
<stop offset="1" stop-color="#3288BD"/>
</linearGradient></defs>
<rect x="1675.6" y="157.0" width="18" height="267.2" fill="url(#cb)"/>
<g id="cbl" font-size="16.3" fill="#000">
<text x="1701" y="176.7">3</text>
<text x="1701" y="228.8">2</text>
<text x="1701" y="281.0">1</text>
<text x="1701" y="333.1">0</text>
<text x="1701" y="385.3">-1</text>
</g>
<text x="1727" y="170" font-size="18.1" font-weight="bold" fill="#000">group</text>
<g id="legend" font-size="18" fill="#000">
<rect x="1727" y="176.0" width="26.5" height="26.0" fill="#FF0000" shape-rendering="crispEdges"/>
<text x="1759" y="195.2">BPT5204</text>
<rect x="1727" y="201.7" width="26.5" height="26.0" fill="#FF9900" shape-rendering="crispEdges"/>
<text x="1759" y="220.8">CO52</text>
<rect x="1727" y="227.4" width="26.5" height="26.0" fill="#CCFF00" shape-rendering="crispEdges"/>
<text x="1759" y="246.6">HUR105</text>
<rect x="1727" y="253.1" width="26.5" height="26.0" fill="#33FF00" shape-rendering="crispEdges"/>
<text x="1759" y="272.2">HUR917</text>
<rect x="1727" y="278.8" width="26.5" height="26.0" fill="#00FF66" shape-rendering="crispEdges"/>
<text x="1759" y="298.0">MTU1001</text>
<rect x="1727" y="304.5" width="26.5" height="26.0" fill="#00FFFF" shape-rendering="crispEdges"/>
<text x="1759" y="323.7">MTU7029</text>
<rect x="1727" y="330.2" width="26.5" height="26.0" fill="#0066FF" shape-rendering="crispEdges"/>
<text x="1759" y="349.4">Rajendra _Sweta</text>
<rect x="1727" y="355.9" width="26.5" height="26.0" fill="#3300FF" shape-rendering="crispEdges"/>
<text x="1759" y="375.1">SHIATS1</text>
<rect x="1727" y="381.6" width="26.5" height="26.0" fill="#CC00FF" shape-rendering="crispEdges"/>
<text x="1759" y="400.8">TKM13</text>
<rect x="1727" y="407.3" width="26.5" height="26.0" fill="#FF0099" shape-rendering="crispEdges"/>
<text x="1759" y="426.4">Warangal_3207</text>
</g>
</svg></body></html>
